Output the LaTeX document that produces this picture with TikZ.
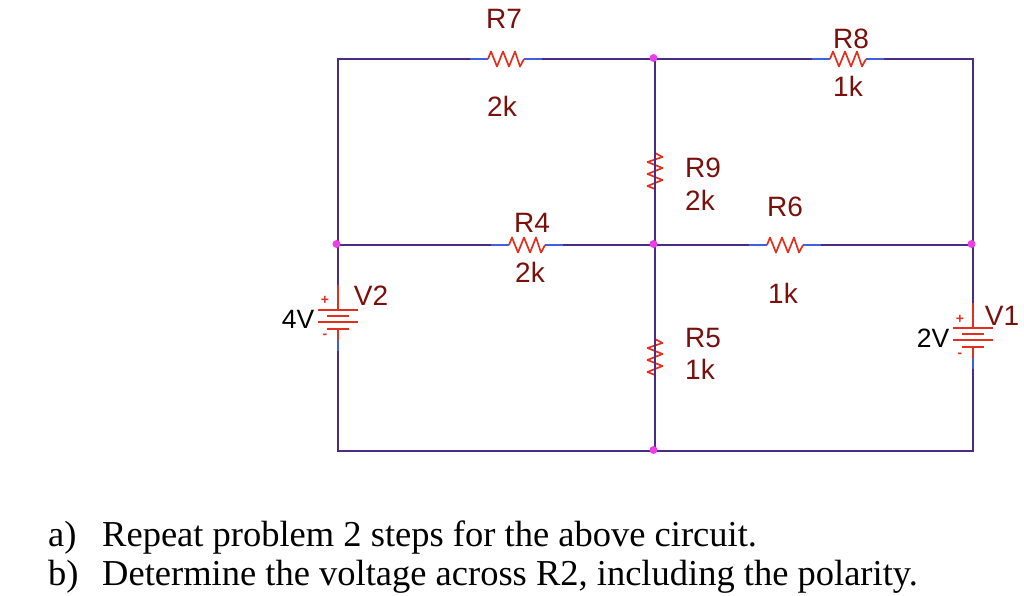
\documentclass[tikz,border=0pt]{standalone}
\usepackage{fontspec}
\setmainfont{Liberation Serif}
\setsansfont{Liberation Sans}
\definecolor{wirecol}{HTML}{4A2C82}
\definecolor{stubcol}{HTML}{3F5FE0}
\definecolor{partcol}{HTML}{E2301E}
\definecolor{labelcol}{HTML}{7A100C}
\definecolor{dotcol}{HTML}{EE3FE6}
\tikzset{
  wire/.style={draw=wirecol, line width=1.8pt},
  stub/.style={draw=stubcol, line width=1.8pt},
  part/.style={draw=partcol, line width=1.7pt},
  junction/.style={circle, fill=dotcol, minimum size=8pt, inner sep=0pt},
  lbl/.style={font=\sffamily\fontsize{28}{28}\selectfont, text=labelcol, inner sep=0pt},
  src/.style={font=\sffamily\fontsize{26.5}{26.5}\selectfont, text=black, inner sep=0pt},
  sign/.style={font=\sffamily\bfseries\fontsize{14}{14}\selectfont, text=partcol, inner sep=0pt},
  prob/.style={font=\rmfamily\fontsize{36.5}{36.5}\selectfont, text=black, inner sep=0pt, anchor=base west},
  % resistor lying along x, 36 wide, with its blue leads
  res/.pic={
    \coordinate (-a) at (-36,0);
    \coordinate (-b) at (36,0);
    \draw[stub] (-36,0) -- (-18,0) (18,0) -- (36,0);
    \draw[part, line join=round] (-18,0) -- (-15,-7.5) -- (-9,7.5) -- (-3,-7.5)
      -- (3,7.5) -- (9,-7.5) -- (14,7.5) -- (18,0);
  },
  % battery standing along y, from -26 to 28 around its centre
  batt/.pic={
    \coordinate (-a) at (0,-26);
    \coordinate (-b) at (0,40);
    \draw[part] (0,-26) -- (0,-1) (-20,-1) -- (20,-1) (-11,5) -- (11,5)
      (-20,11) -- (20,11) (-11,18) -- (11,18) (0,18) -- (0,29);
    \draw[stub] (0,29) -- (0,40);
  }
}
\begin{document}
\begin{tikzpicture}[x=1pt, y=-1pt]
    \useasboundingbox (0,0) rectangle (1024,596);
    % corners and crossings of the mesh
    \coordinate (tl) at (338,59);
    \coordinate (tm) at (655,59);
    \coordinate (tr) at (973,59);
    \coordinate (ml) at (338,245);
    \coordinate (mm) at (655,245);
    \coordinate (mr) at (973,245);
    \coordinate (bl) at (338,451);
    \coordinate (bm) at (655,451);
    \coordinate (br) at (973,451);
    % parts
    \pic (r7) at (506,59) {res};
    \pic (r8) at (848,59) {res};
    \pic (r4) at (527,245) {res};
    \pic (r6) at (785,245) {res};
    \pic[rotate=90] (r9) at (655,171) {res};
    \pic[rotate=90] (r5) at (655,357) {res};
    \pic (v2) at (338,311) {batt};
    \pic (v1) at (973,329) {batt};
    % wires
    \draw[wire] (v2-a) -- (ml) -- (tl) -- (r7-a);
    \draw[wire] (r7-b) -- (tm) -- (r8-a);
    \draw[wire] (r8-b) -- (tr) -- (mr) -- (v1-a);
    \draw[wire] (ml) -- (r4-a);
    \draw[wire] (r4-b) -- (mm) -- (r6-a);
    \draw[wire] (r6-b) -- (mr);
    \draw[wire] (tm) -- (r9-a);
    \draw[wire] (r9-b) -- (mm) -- (r5-a);
    \draw[wire] (r5-b) -- (bm);
    \draw[wire] (v2-b) -- (bl) -- (bm) -- (br) -- (v1-b);
    \foreach \j in {tm,ml,mm,mr,bm}
      \node[junction] (dot\j) at ([shift={(-1.5,-1)}]\j) {};
    % labels
    \node[lbl] (lr7) at (504,19) {R7};
    \node[lbl] (vr7) at (502,106) {2k};
    \node[lbl] (lr8) at (851,39) {R8};
    \node[lbl] (vr8) at (848,86) {1k};
    \node[lbl] (lr9) at (703,168) {R9};
    \node[lbl] (vr9) at (700,200) {2k};
    \node[lbl] (lr6) at (785,207) {R6};
    \node[lbl] (vr6) at (783,293) {1k};
    \node[lbl] (lr4) at (532,223) {R4};
    \node[lbl] (vr4) at (530,272) {2k};
    \node[lbl] (lr5) at (703,338) {R5};
    \node[lbl] (vr5) at (700,369) {1k};
    \node[lbl] (lv2) at (371,296) {V2};
    \node[lbl] (lv1) at (1002,316) {V1};
    \node[src] (vv2) at (298,319) {4V};
    \node[src] (vv1) at (933,338) {2V};
    \node[sign] (pv2) at (325,300) {+};
    \node[sign] (nv2) at (325,336) {-};
    \node[sign] (pv1) at (960,319) {+};
    \node[sign] (nv1) at (960,355) {-};
    % question text
    \node[prob] (qa) at (48,546) {a)};
    \node[prob] (qat) at (102,546) {Repeat problem 2 steps for the above circuit.};
    \node[prob] (qb) at (48,585) {b)};
    \node[prob] (qbt) at (102,585) {Determine the voltage across R2, including the polarity.};
\end{tikzpicture}
\end{document}
